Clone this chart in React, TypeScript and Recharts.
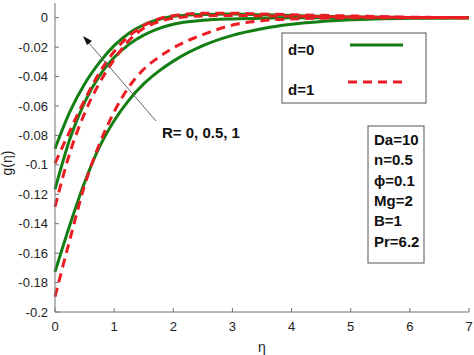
import React from "react";
import { LineChart, Line, XAxis, YAxis } from "recharts";

// eta grid and g(eta)
const eta = [0, 0.25, 0.5, 0.75, 1, 1.25, 1.5, 1.75, 2, 2.5, 3, 3.5, 4, 5, 6, 7];

// d = 0 (solid green)
const d0R1 = [-0.089, -0.064, -0.045, -0.0305, -0.019, -0.0105, -0.0048, -0.0012, 0.001, 0.0022, 0.0025, 0.002, 0.0015, 0.0005, 0.0001, 0];
const d0R05 = [-0.1166, -0.0826, -0.0576, -0.0396, -0.0271, -0.0181, -0.0118, -0.0074, -0.0044, -0.0018, -0.0008, -0.0003, -0.0001, 0, 0, 0];
const d0R0 = [-0.1727, -0.141, -0.112, -0.088, -0.07, -0.056, -0.045, -0.0365, -0.0295, -0.019, -0.012, -0.0075, -0.0045, -0.0014, -0.0003, 0];

// d = 1 (dashed red)
const d1R1 = [-0.099, -0.077, -0.056, -0.0375, -0.023, -0.0125, -0.0053, -0.0008, 0.0014, 0.003, 0.003, 0.0025, 0.002, 0.0012, 0.0004, 0];
const d1R05 = [-0.1286, -0.092, -0.065, -0.0445, -0.0285, -0.0155, -0.0072, -0.0028, -0.0003, 0.0012, 0.0015, 0.0013, 0.001, 0.0005, 0.0002, 0];
const d1R0 = [-0.1896, -0.151, -0.114, -0.086, -0.064, -0.047, -0.035, -0.027, -0.0205, -0.0115, -0.005, -0.002, -0.0008, -0.0001, 0, 0];

const xTicks = [0, 1, 2, 3, 4, 5, 6, 7];
const yTicks = [-0.2, -0.18, -0.16, -0.14, -0.12, -0.1, -0.08, -0.06, -0.04, -0.02, 0];

const params = ["Da=10", "n=0.5", "\u03d5=0.1", "Mg=2", "B=1", "Pr=6.2"];

const data = eta.map((x, i) => ({
  eta: x,
  a: d0R1[i],
  b: d0R05[i],
  c: d0R0[i],
  p: d1R1[i],
  q: d1R05[i],
  r: d1R0[i],
}));

const GREEN = "#137f13";
const RED = "#ec1c24";
const FRAME = "#707070";
const FONT = "'Liberation Sans', Arial, sans-serif";

const LeftTick = (props: any) => {
  const { x, y, payload } = props;
  return (
    <g>
      <line x1={x} x2={x + 4} y1={y} y2={y} stroke={FRAME} />
      <text x={x - 7} y={y + 4.5} textAnchor="end" fontSize={13} fontFamily={FONT} fill="#222">
        {payload.value}
      </text>
    </g>
  );
};

const BottomTick = (props: any) => {
  const { x, y, payload } = props;
  return (
    <g>
      <line x1={x} x2={x} y1={y} y2={y - 4} stroke={FRAME} />
      <text x={x} y={y + 19} textAnchor="middle" fontSize={13} fontFamily={FONT} fill="#222">
        {payload.value}
      </text>
    </g>
  );
};

const TopTick = (props: any) => {
  const { x, y } = props;
  return <line x1={x} x2={x} y1={y} y2={y + 4} stroke={FRAME} />;
};

const RightTick = (props: any) => {
  const { x, y } = props;
  return <line x1={x} x2={x - 4} y1={y} y2={y} stroke={FRAME} />;
};

export default function App() {
  return (
    <div style={{ position: "absolute", left: 0, top: 0, width: 474, height: 355, background: "#fff" }}>
      <LineChart width={474} height={355} data={data} margin={{ top: 3, right: 5, bottom: 13, left: 5 }}>
        <XAxis
          dataKey="eta"
          type="number"
          domain={[0, 7]}
          ticks={xTicks}
          tickSize={0}
          tickMargin={0}
          tickLine={false}
          height={30}
          stroke={FRAME}
          tick={<BottomTick />}
        />
        <XAxis
          xAxisId="top"
          orientation="top"
          dataKey="eta"
          type="number"
          domain={[0, 7]}
          ticks={xTicks}
          tickSize={0}
          tickMargin={0}
          tickLine={false}
          height={0}
          stroke={FRAME}
          tick={<TopTick />}
        />
        <YAxis
          type="number"
          domain={[-0.2, 0.01]}
          ticks={yTicks}
          tickSize={0}
          tickMargin={0}
          tickLine={false}
          width={50}
          stroke={FRAME}
          tick={<LeftTick />}
        />
        <YAxis
          yAxisId="right"
          orientation="right"
          type="number"
          domain={[-0.2, 0.01]}
          ticks={yTicks}
          tickSize={0}
          tickMargin={0}
          tickLine={false}
          width={0}
          stroke={FRAME}
          tick={<RightTick />}
        />
        <Line type="monotone" dataKey="a" stroke={GREEN} strokeWidth={3} dot={false} isAnimationActive={false} />
        <Line type="monotone" dataKey="b" stroke={GREEN} strokeWidth={3} dot={false} isAnimationActive={false} />
        <Line type="monotone" dataKey="c" stroke={GREEN} strokeWidth={3} dot={false} isAnimationActive={false} />
        <Line type="monotone" dataKey="p" stroke={RED} strokeWidth={3} strokeDasharray="9 6" dot={false} isAnimationActive={false} />
        <Line type="monotone" dataKey="q" stroke={RED} strokeWidth={3} strokeDasharray="9 6" dot={false} isAnimationActive={false} />
        <Line type="monotone" dataKey="r" stroke={RED} strokeWidth={3} strokeDasharray="9 6" dot={false} isAnimationActive={false} />
      </LineChart>
      <svg
        width={474}
        height={355}
        style={{ position: "absolute", left: 0, top: 0, pointerEvents: "none" }}
        fontFamily={FONT}
      >
        {/* axis titles */}
        <text x={262} y={352} textAnchor="middle" fontSize={14} fill="#222">
          η
        </text>
        <text x={12} y={163} textAnchor="middle" fontSize={14} fill="#222" transform="rotate(-90 12 163)">
          g(η)
        </text>

        {/* legend */}
        <rect x={282} y={33} width={144} height={70} fill="#fff" stroke="#555" />
        <text x={288} y={55} fontSize={15} fontWeight="bold" fill="#111">d=0</text>
        <line x1={350} x2={403} y1={45} y2={45} stroke={GREEN} strokeWidth={3} />
        <text x={288} y={95} fontSize={15} fontWeight="bold" fill="#111">d=1</text>
        <line x1={348} x2={403} y1={82} y2={82} stroke={RED} strokeWidth={3} strokeDasharray="9 6" />

        {/* arrow + R annotation */}
        <line x1={156} y1={121} x2={88} y2={42} stroke="#666" strokeWidth={1} />
        <polygon points="83,36 92,41 87,45" fill="#111" />
        <text x={162} y={138} fontSize={15} fontWeight="bold" fill="#111">R= 0, 0.5, 1</text>

        {/* parameter box */}
        <rect x={368} y={126} width={56} height={137} fill="#fff" stroke="#555" />
        {params.map((s, i) => (
          <text key={s} x={374} y={145 + i * 20.3} fontSize={15} fontWeight="bold" fill="#111">
            {s}
          </text>
        ))}
      </svg>
    </div>
  );
}
